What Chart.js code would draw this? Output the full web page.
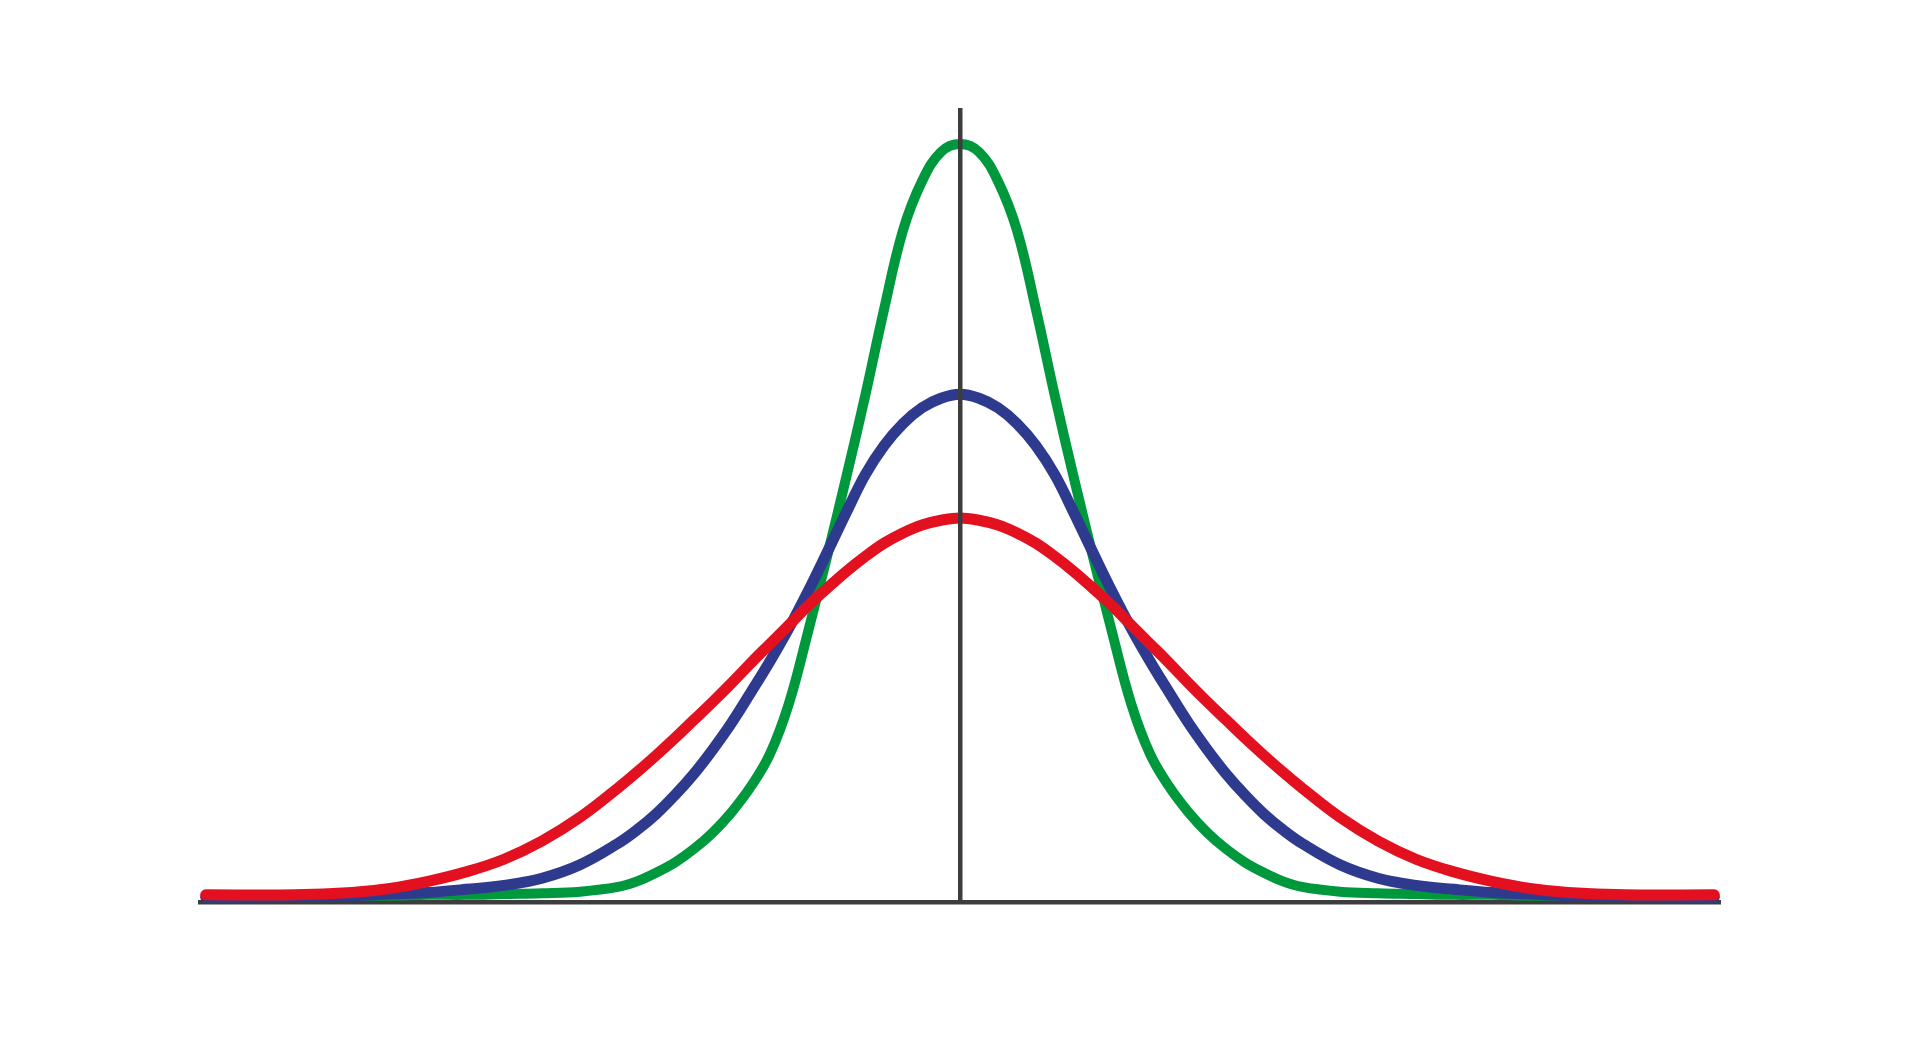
<!DOCTYPE html>
<html>
<head>
<meta charset="utf-8">
<title>Normal distribution curves</title>
<script src="https://cdn.jsdelivr.net/npm/chart.js@4.4.1/dist/chart.umd.min.js"></script>
<style>
    html, body { margin: 0; padding: 0; background: #ffffff; }
    #wrap { width: 1920px; height: 1038px; position: relative; }
</style>
</head>
<body>
<div id="wrap"><canvas id="bellChart"></canvas></div>
<script>
// x positions (same for all three curves)
const xValues = [-3.97, -3.5, -3.2, -3, -2.8, -2.6, -2.4, -2.2, -2, -1.8, -1.7, -1.6, -1.5, -1.4, -1.3, -1.2, -1.1, -1, -0.9, -0.8, -0.7, -0.6, -0.5, -0.4, -0.3, -0.2, -0.1,
    0,
    0.1, 0.2, 0.3, 0.4, 0.5, 0.6, 0.7, 0.8, 0.9, 1, 1.1, 1.2, 1.3, 1.4, 1.5, 1.6, 1.7, 1.8, 2, 2.2, 2.4, 2.6, 2.8, 3, 3.2, 3.5, 3.97];

// 0 = x axis, 100 = top of the vertical axis
const redValues = [0.9, 0.9, 1.2, 1.7, 2.6, 3.8, 5.4, 7.7, 10.7, 14.4, 16.4, 18.5, 20.7, 23.0, 25.3, 27.7, 30.2, 32.6, 35.0, 37.4, 39.6, 41.7, 43.6, 45.3, 46.6, 47.6, 48.2,
    48.5,
    48.2, 47.6, 46.6, 45.3, 43.6, 41.7, 39.6, 37.4, 35.0, 32.6, 30.2, 27.7, 25.3, 23.0, 20.7, 18.5, 16.4, 14.4, 10.7, 7.7, 5.4, 3.8, 2.6, 1.7, 1.2, 0.9, 0.9];
const blueValues = [0.6, 0.7, 0.8, 1.0, 1.2, 1.6, 2.1, 3.0, 4.7, 7.4, 9.1, 11.1, 13.5, 16.2, 19.3, 22.7, 26.5, 30.4, 34.6, 39.2, 44.1, 49.1, 53.9, 57.6, 60.4, 62.4, 63.6,
    64.1,
    63.6, 62.4, 60.4, 57.6, 53.9, 49.1, 44.1, 39.2, 34.6, 30.4, 26.5, 22.7, 19.3, 16.2, 13.5, 11.1, 9.1, 7.4, 4.7, 3.0, 2.1, 1.6, 1.2, 1.0, 0.8, 0.7, 0.6];
const greenValues = [0.6, 0.7, 0.8, 0.8, 0.9, 0.9, 1.0, 1.1, 1.3, 1.9, 2.6, 3.7, 5.0, 6.7, 8.8, 11.4, 14.6, 18.7, 25.1, 34.1, 43.6, 53.5, 63.8, 74.8, 84.8, 91.0, 94.7,
    95.7,
    94.7, 91.0, 84.8, 74.8, 63.8, 53.5, 43.6, 34.1, 25.1, 18.7, 14.6, 11.4, 8.8, 6.7, 5.0, 3.7, 2.6, 1.9, 1.3, 1.1, 1.0, 0.9, 0.9, 0.8, 0.8, 0.7, 0.6];

function toPoints(ys) {
    return xValues.map((x, i) => ({ x: x, y: ys[i] }));
}

function curve(ys, color, width) {
    return {
        data: toPoints(ys),
        borderColor: color,
        borderWidth: width,
        borderCapStyle: 'round',
        borderJoinStyle: 'round',
        pointRadius: 0,
        fill: false,
        tension: 0.4,
        clip: false
    };
}

const ctx = document.getElementById('bellChart');
// first dataset is painted last, so red sits on top
new Chart(ctx, {
    type: 'line',
    data: {
        datasets: [
            curve(redValues, '#e3111f', 11),
            curve(blueValues, '#2e3a8e', 11),
            curve(greenValues, '#00983d', 10)
        ]
    },
    options: {
        responsive: true,
        maintainAspectRatio: false,
        animation: false,
        events: [],
        layout: {
            padding: { left: 200, right: 200, top: 110, bottom: 136 }
        },
        plugins: {
            legend: { display: false },
            tooltip: { enabled: false }
        },
        scales: {
            x: {
                type: 'linear',
                min: -4,
                max: 4,
                grid: { display: false, drawTicks: false },
                ticks: { display: false },
                border: { display: true, color: '#3d3d3d', width: 4.5 }
            },
            y: {
                min: 0,
                max: 100,
                position: { x: 0 },
                grid: { display: false, drawTicks: false },
                ticks: { display: false },
                border: { display: true, color: '#3d3d3d', width: 4.5, z: 1 }
            }
        }
    }
});
</script>
</body>
</html>
